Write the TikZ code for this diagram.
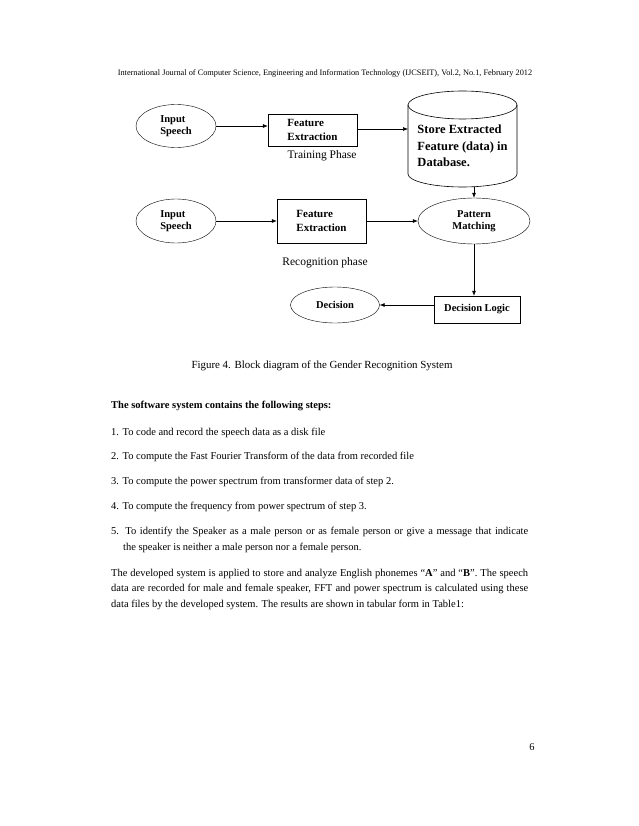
\documentclass[tikz,border=0pt]{standalone}
\usepackage{fontspec}
\setmainfont{Liberation Serif}
\usetikzlibrary{arrows.meta, calc, positioning, shapes.geometric}
\tikzset{
  oval/.style={draw, ellipse, inner sep=0pt, align=left, font=\fontsize{10.5}{12.5}\selectfont\bfseries},
  blockbox/.style={draw, rectangle, inner sep=0pt, align=left, font=\fontsize{11}{13.5}\selectfont\bfseries},
  arr/.style={-{Latex[length=5pt,width=4pt]}, line width=0.6pt},
  bodyline/.style={anchor=base west, inner sep=0pt, font=\fontsize{10.5}{15.5}\selectfont},
  bodypar/.style={anchor=north west, inner sep=0pt, text width=417pt, align=justify, font=\fontsize{10.5}{15.5}\selectfont}
}

\begin{document}
\begin{tikzpicture}[x=1pt,y=-1pt]
  \useasboundingbox[fill=white] (0,0) rectangle (638,826);
  \node[anchor=base, inner sep=0pt, font=\fontsize{8.3}{10}\selectfont] (head) at (325,76)
    {International Journal of Computer Science, Engineering and Information Technology (IJCSEIT), Vol.2, No.1, February 2012};

  \node[oval, minimum width=80pt, minimum height=43pt] (in1) at (176,126) {Input\\Speech};
  \node[blockbox, minimum width=89pt, minimum height=32pt] (fe1) at (312.5,130) {Feature\\Extraction};
  \node[font=\fontsize{11.5}{13}\selectfont, inner sep=0pt] (train) at (322,156) {Training Phase};
  \node[inner sep=0pt, minimum width=109pt, minimum height=69pt, align=left,
        font=\fontsize{12.5}{16.5}\selectfont\bfseries] (db) at (462.5,146)
    {Store Extracted\\Feature (data) in\\Database.};
  \draw[line width=0.6pt] (462.5,105) ellipse[x radius=54.5pt, y radius=14pt];
  \draw[line width=0.6pt] (408,105) -- (408,174) arc[start angle=180, end angle=360, x radius=54.5pt, y radius=13pt] -- (517,105);
  \coordinate (dbwest) at (408,129);
  \coordinate (dbbot) at (474,187);

  \node[oval, minimum width=80pt, minimum height=44pt] (in2) at (176,221) {Input\\Speech};
  \node[blockbox, minimum width=89pt, minimum height=44pt] (fe2) at (321.5,221) {Feature\\Extraction};
  \node[font=\fontsize{11.5}{13}\selectfont, inner sep=0pt] (recog) at (325,263) {Recognition phase};
  \node[oval, minimum width=112pt, minimum height=46pt, align=center] (pm) at (474,221) {Pattern\\Matching};
  \node[blockbox, minimum width=86pt, minimum height=27pt, font=\fontsize{10.5}{12.5}\selectfont\bfseries] (dl) at (477,309.5) {Decision Logic};
  \node[oval, minimum width=89pt, minimum height=36pt] (dec) at (335,305) {Decision};

  \draw[arr] (in1.east) -- (in1.east -| fe1.west);
  \draw[arr] (fe1.east |- dbwest) -- (dbwest);
  \draw[arr] (dbbot) -- (pm.north);
  \draw[arr] (in2.east) -- (fe2.west);
  \draw[arr] (fe2.east) -- (pm.west);
  \draw[arr] (pm.south) -- (pm.south |- dl.north);
  \draw[arr] (dec.east -| dl.west) -- (dec.east);

  \node[anchor=base, inner sep=0pt, font=\fontsize{10.9}{12}\selectfont] (cap) at (322,368)
    {Figure 4. Block diagram of the Gender Recognition System};

  \node[bodyline, font=\fontsize{10.5}{15.5}\selectfont\bfseries] (steps) at (111,408) {The software system contains the following steps:};
  \node[bodyline] (s1) at (111,435) {1. To code and record the speech data as a disk file};
  \node[bodyline] (s2) at (111,459) {2. To compute the Fast Fourier Transform of the data from recorded file};
  \node[bodyline] (s3) at (111,484) {3. To compute the power spectrum from transformer data of step 2.};
  \node[bodyline] (s4) at (111,509) {4. To compute the frequency from power spectrum of step 3.};
  \node[bodypar] (s5) at (111,527)
    {5. To identify the Speaker as a male person or as female person or give a message that indicate\hangindent=12pt\hangafter=1\relax\linebreak the speaker is neither a male person nor a female person.\par};
  \node[bodypar] (dev) at (111,569)
    {The developed system is applied to store and analyze English phonemes “\textbf{A}” and “\textbf{B}”. The speech\linebreak data are recorded for male and female speaker, FFT and power spectrum is calculated using these\linebreak data files by the developed system. The results are shown in tabular form in Table1:};

  \node[anchor=base, inner sep=0pt, font=\fontsize{10.4}{12}\selectfont] (pg) at (532,750) {6};
\end{tikzpicture}
\end{document}
